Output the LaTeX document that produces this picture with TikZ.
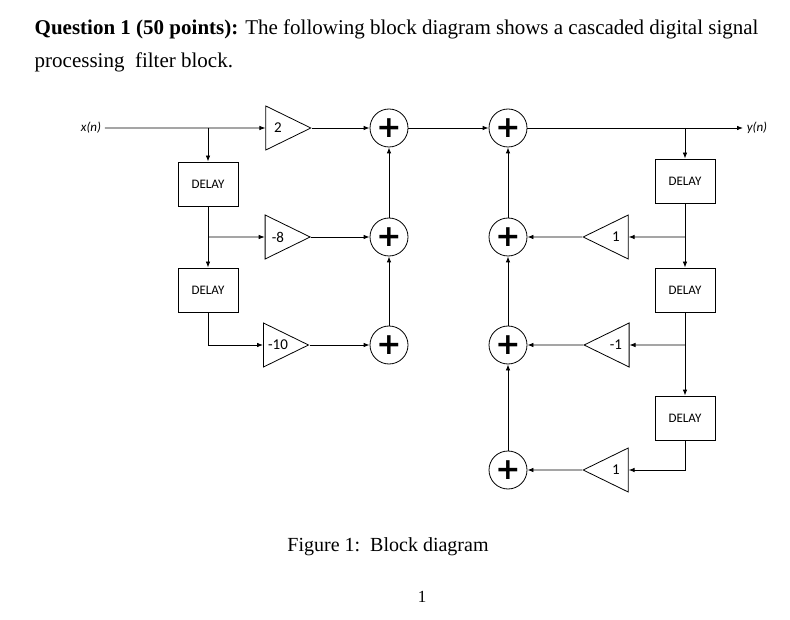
\documentclass[tikz,border=0pt]{standalone}
\usepackage{fontspec}
\setmainfont{Liberation Serif}
\newfontfamily\diagfont{Carlito}
\newfontfamily\plusfont{DejaVu Sans}
\usetikzlibrary{shapes.geometric,arrows.meta}
\begin{document}
\begin{tikzpicture}[x=1pt,y=-1pt,line width=0.8pt,
  delay/.style={draw,minimum width=60pt,minimum height=44pt,font=\diagfont\fontsize{13}{13}\selectfont},
  gain/.style={draw,isosceles triangle,isosceles triangle stretches,minimum width=44pt,minimum height=45pt,inner sep=0pt,anchor=center,font=\diagfont\fontsize{15}{15}\selectfont},
  gainl/.style={gain,shape border rotate=180},
  adder/.style={draw,circle,minimum size=38pt,inner sep=0pt,font=\plusfont\bfseries\fontsize{30}{30}\selectfont},
  arr/.style={-{Latex[length=6pt,width=4.5pt]}}]
\useasboundingbox (0,0) rectangle (790,620);
% title
\node[anchor=base west,font=\fontsize{21}{21}\selectfont] at (31,35) {\textbf{Question 1 (50 points):} The following block diagram shows a cascaded digital signal};
\node[anchor=base west,font=\fontsize{21}{21}\selectfont] at (31,68) {processing\ \ filter block.};
% input and output
\node[font=\diagfont\itshape\fontsize{13}{13}\selectfont] (x) at (91,128) {x(n)};
\node[font=\diagfont\itshape\fontsize{13}{13}\selectfont] (y) at (757,128) {y(n)};
\coordinate (bx) at (208,128);
\coordinate (by) at (685,128);
% feed-forward part
\node[gain] (g0) at (278,128) {2};
\node[gain] (g1) at (278,237) {-8};
\node[gain] (g2) at (278,345) {-10};
\node[delay] (d1) at (208,184) {DELAY};
\node[delay] (d2) at (208,290) {DELAY};
\node[adder] (a0) at (389,128) {+};
\node[adder] (a1) at (389,237) {+};
\node[adder] (a2) at (389,345) {+};
% feedback part
\node[adder] (b0) at (508,128) {+};
\node[adder] (b1) at (508,237) {+};
\node[adder] (b2) at (508,345) {+};
\node[adder] (b3) at (508,470) {+};
\node[delay] (e1) at (685,181) {DELAY};
\node[delay] (e2) at (685,290) {DELAY};
\node[delay] (e3) at (685,418) {DELAY};
\node[gainl] (h1) at (616,237) {1};
\node[gainl] (h2) at (616,345) {-1};
\node[gainl] (h3) at (616,470) {1};
% connectors
\draw[arr] (x) -- (g0);
\draw[arr] (bx) -- (d1);
\draw[arr] (d1) -- (d2);
\draw[arr] (d1.south |- g1) -- (g1);
\draw[arr] (d2) |- (g2);
\draw[arr] (g0) -- (a0);
\draw[arr] (g1) -- (a1);
\draw[arr] (g2) -- (a2);
\draw[arr] (a2) -- (a1);
\draw[arr] (a1) -- (a0);
\draw[arr] (a0) -- (b0);
\draw[arr] (b0) -- (y);
\draw[arr] (by) -- (e1);
\draw[arr] (e1) -- (e2);
\draw[arr] (e2) -- (e3);
\draw[arr] (e1.south |- h1) -- (h1);
\draw[arr] (e2.south |- h2) -- (h2);
\draw[arr] (e3) |- (h3);
\draw[arr] (h1) -- (b1);
\draw[arr] (h2) -- (b2);
\draw[arr] (h3) -- (b3);
\draw[arr] (b3) -- (b2);
\draw[arr] (b2) -- (b1);
\draw[arr] (b1) -- (b0);
% caption
\node[font=\fontsize{20}{20}\selectfont] (cap) at (388,547) {Figure 1:\ \ Block diagram};
\node[font=\fontsize{17}{17}\selectfont] (pg) at (422,597) {1};
\end{tikzpicture}
\end{document}
